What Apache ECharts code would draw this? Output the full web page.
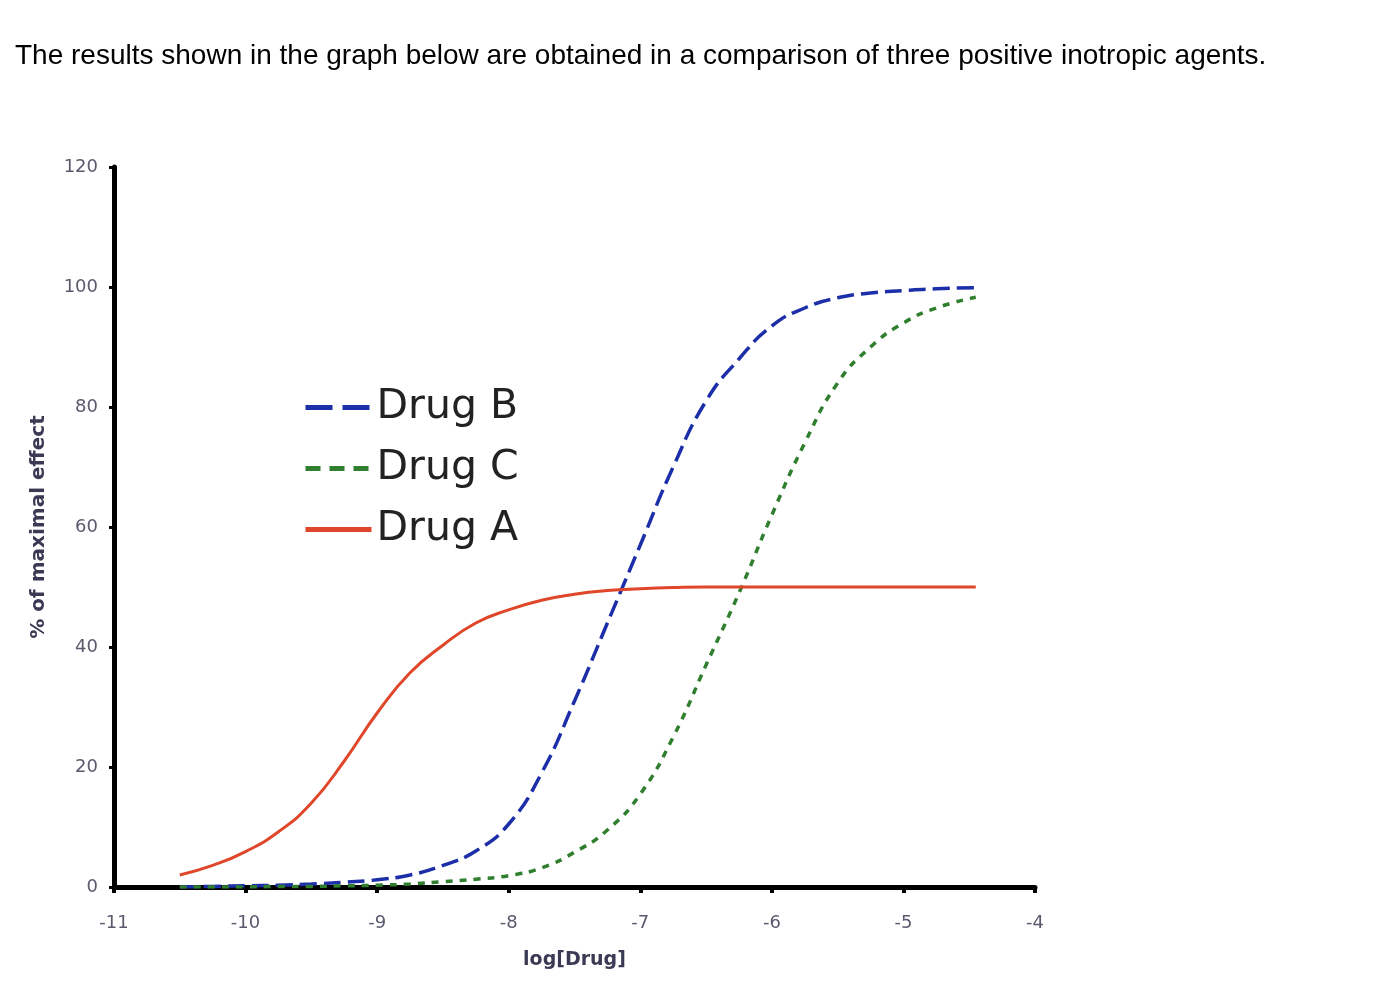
<!DOCTYPE html>
<html>
<head>
<meta charset="utf-8">
<script src="https://cdn.jsdelivr.net/npm/echarts@6/dist/echarts.min.js"></script>
<style>
  html, body { margin: 0; padding: 0; background: #fff; }
  #title { position: absolute; left: 15px; top: 39px; font: 28px "Liberation Sans", Arial, sans-serif; color: #000; white-space: nowrap; }
  #container1 { position: absolute; left: 0; top: 0; width: 1388px; height: 1004px; }
</style>
</head>
<body>
<div id="container1"></div>
<div id="title">The results shown in the graph below are obtained in a comparison of three positive inotropic agents.</div>
<script>
// log[Drug] values the curves were read at
var logDrug = [-10.5, -10.25, -10, -9.75, -9.5, -9.25, -9, -8.75, -8.5, -8.25, -8, -7.75, -7.5, -7.25, -7, -6.75, -6.5, -6.25, -6, -5.75, -5.5, -5.25, -5, -4.75, -4.45];
// % of maximal effect
var drugB = [0, 0.1, 0.2, 0.3, 0.5, 0.8, 1.2, 2, 3.6, 6, 10.5, 19, 31, 44, 57, 70, 81, 88, 93.5, 96.5, 98.2, 99, 99.4, 99.7, 99.9];
var drugC = [0, 0, 0, 0.1, 0.1, 0.2, 0.3, 0.5, 0.9, 1.3, 1.9, 3.2, 5.8, 9.5, 15.5, 25, 37, 49, 62, 74, 84, 90, 94, 96.5, 98.3];
var drugA = [2, 3.6, 5.9, 9.2, 14, 21, 29, 35.7, 40.3, 44, 46.2, 47.8, 48.8, 49.4, 49.7, 49.9, 50, 50, 50, 50, 50, 50, 50, 50, 50];
var yTicks = [0, 120, 20];   // min, max, interval
var xTicks = [-11, -4, 1];

var myChart = echarts.init(document.getElementById('container1'));
initChart();

function pairs(vals){
  var out = [];
  for (var i = 0; i < logDrug.length; i++) out.push([logDrug[i], vals[i]]);
  return out;
}

function initChart(){
var fam = 'DejaVu Sans, Verdana, sans-serif';
var option = {
    animation: false,
    grid: { left: 114, right: 353, top: 167, bottom: 117 },
    legend: {
        data: [
            { name: 'Drug B', lineStyle: { width: 5, type: [27, 10] } },
            { name: 'Drug C', lineStyle: { width: 5, type: [15, 9] } },
            { name: 'Drug A', lineStyle: { width: 5 } }
        ],
        orient: 'vertical',
        left: 298,
        top: 382,
        itemWidth: 66,
        itemHeight: 14,
        itemGap: 20,
        itemStyle: { opacity: 0 },
        textStyle: { fontSize: 41, color: '#222', fontFamily: fam }
    },
    xAxis: {
        type: 'value',
        min: xTicks[0], max: xTicks[1], interval: xTicks[2],
        name: 'log[Drug]',
        nameLocation: 'middle',
        nameGap: 64,
        nameTextStyle: { color: '#3a3a55', fontSize: 19, fontWeight: 'bold', fontFamily: fam },
        splitLine: { show: false },
        axisLine: { onZero: false, lineStyle: { color: '#000', width: 5 } },
        axisTick: { show: true, inside: false, length: 6, lineStyle: { color: '#000', width: 4 } },
        axisLabel: { margin: 27, color: '#5a5a6e', fontSize: 18, fontFamily: fam }
    },
    yAxis: {
        type: 'value',
        min: yTicks[0], max: yTicks[1], interval: yTicks[2],
        name: '% of maximal effect',
        nameLocation: 'middle',
        nameGap: 65,
        nameTextStyle: { color: '#3a3a55', fontSize: 20, fontWeight: 'bold', fontFamily: fam },
        splitLine: { show: false },
        axisLine: { show: true, lineStyle: { color: '#000', width: 5 } },
        axisTick: { show: true, length: 5, lineStyle: { color: '#000', width: 3 } },
        axisLabel: { margin: 16, color: '#5a5a6e', fontSize: 18, fontFamily: fam }
    },
    series: [{
        name: 'Drug B',
        type: 'line',
        data: pairs(drugB),
        smooth: true,
        showSymbol: false,
        symbol: 'none',
        lineStyle: { color: '#1c2fa8', width: 3.5, type: [17, 7] },
        itemStyle: { color: '#1c2fa8' },
        z: 3
    },
    {
        name: 'Drug C',
        type: 'line',
        data: pairs(drugC),
        smooth: true,
        showSymbol: false,
        symbol: 'none',
        lineStyle: { color: '#2f7f2f', width: 3.5, type: [7, 7] },
        itemStyle: { color: '#2f7f2f' },
        z: 3
    },
    {
        name: 'Drug A',
        type: 'line',
        data: pairs(drugA),
        smooth: true,
        showSymbol: false,
        symbol: 'none',
        lineStyle: { color: '#e0462a', width: 3 },
        itemStyle: { color: '#e0462a' },
        z: 4
    }]
};
myChart.setOption(option);
}
</script>
</body>
</html>
